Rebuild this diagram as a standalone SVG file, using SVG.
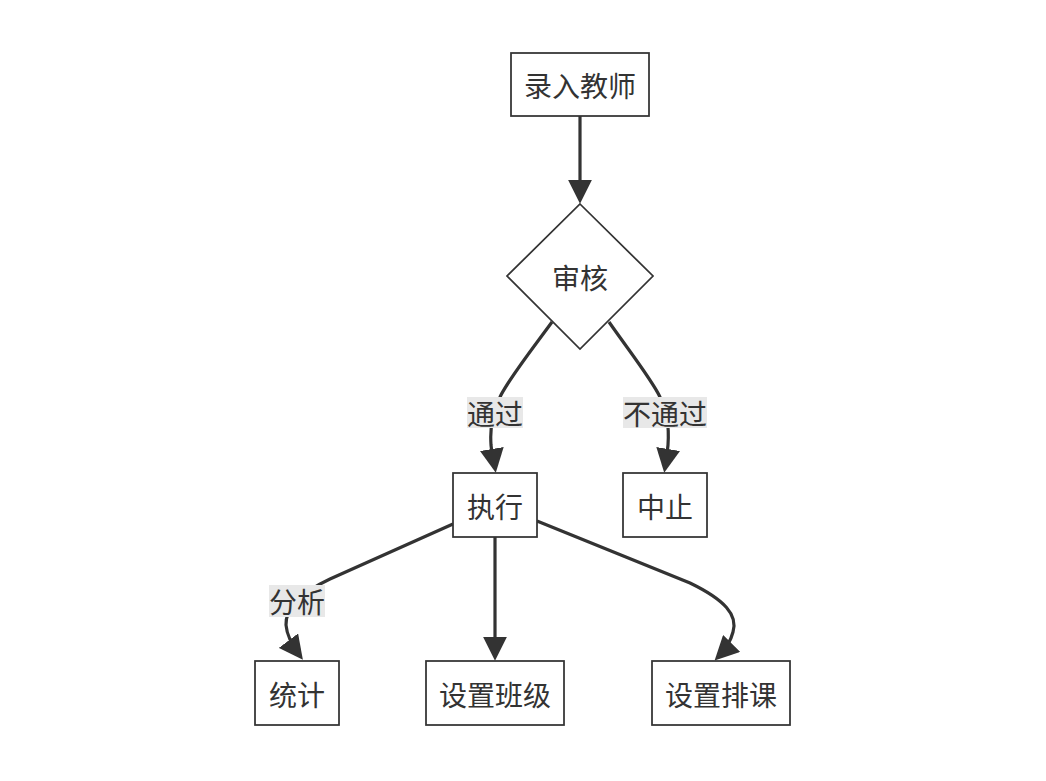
<svg xmlns="http://www.w3.org/2000/svg" width="1046" height="781" viewBox="0 0 1046 781">
<style>
.node rect, .node polygon { fill: #ffffff; stroke: #333333; stroke-width: 1.75; }
.node text, .elabel text { font-family: "Noto Sans CJK SC", "Noto Sans", sans-serif; font-size: 28px; fill: #333333; text-anchor: middle; dominant-baseline: central; }
.edge { fill: none; stroke: #333333; stroke-width: 3.2; marker-end: url(#arrow); }
.elabel rect { fill: #e8e8e8; stroke: none; }
</style>
<defs>
<marker id="arrow" viewBox="0 0 10 10" refX="8" refY="5" markerWidth="24" markerHeight="24" markerUnits="userSpaceOnUse" orient="auto">
<path d="M0,0 L10,5 L0,10 z" fill="#333333"/>
</marker>
</defs>
<rect width="1046" height="781" fill="#ffffff"/>
<g id="connectors">
<path class="edge" d="M580,116 L580,199"/>
<path class="edge" d="M552,322 C530,352 508,380 500,397 C492,412 490,430 491,445 C492,455 494,462 495,468"/>
<path class="edge" d="M609,322 C630,352 652,380 660,397 C668,412 669,430 668,445 C667,455 666,462 665,468"/>
<path class="edge" d="M453,524 L330,579 C300,593 285,610 286,625 C287,638 294,648 300,656"/>
<path class="edge" d="M495,537 L495,656"/>
<path class="edge" d="M537,521 L690,583 C725,600 738,615 733,632 C730,644 724,651 718,657"/>
</g>
<g id="edge-labels">
<g class="elabel" id="label-pass"><rect x="467" y="397" width="56" height="31"/><text x="495" y="413">通过</text></g>
<g class="elabel" id="label-fail"><rect x="623" y="397" width="84" height="31"/><text x="665" y="413">不通过</text></g>
<g class="elabel" id="label-analyze"><rect x="269" y="585" width="56" height="32"/><text x="297" y="601">分析</text></g>
</g>
<g class="node" id="n-input"><rect x="511" y="53" width="138" height="63"/><text x="580" y="85">录入教师</text></g>
<g class="node" id="n-review"><polygon points="580,204 653,276 580,349 507,276"/><text x="580" y="277">审核</text></g>
<g class="node" id="n-exec"><rect x="453" y="473" width="84" height="64"/><text x="495" y="506">执行</text></g>
<g class="node" id="n-stop"><rect x="623" y="473" width="84" height="64"/><text x="665" y="506">中止</text></g>
<g class="node" id="n-stats"><rect x="255" y="661" width="84" height="64"/><text x="297" y="694">统计</text></g>
<g class="node" id="n-class"><rect x="426" y="661" width="138" height="64"/><text x="495" y="694">设置班级</text></g>
<g class="node" id="n-schedule"><rect x="652" y="661" width="138" height="64"/><text x="721" y="694">设置排课</text></g>
</svg>
